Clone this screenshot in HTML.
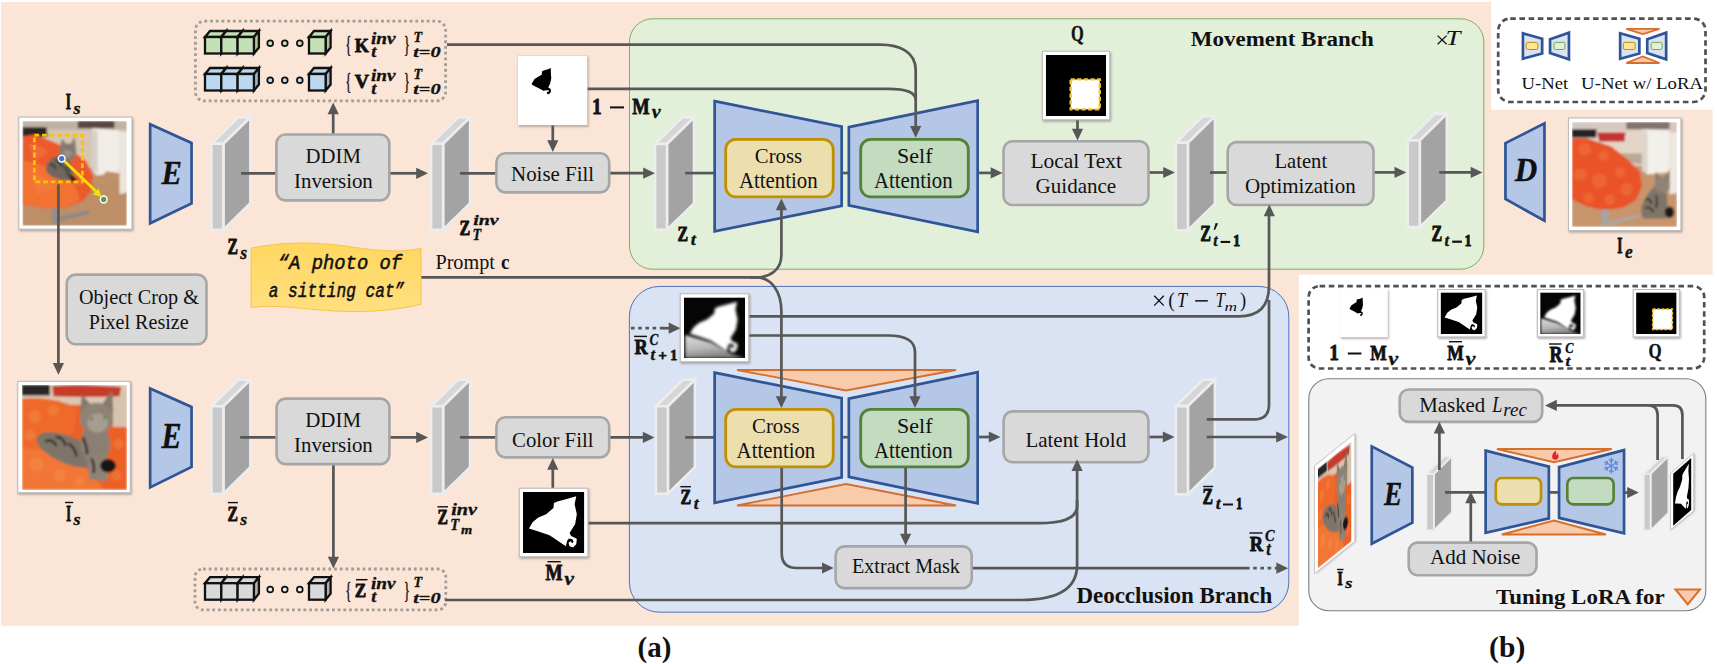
<!DOCTYPE html>
<html><head><meta charset="utf-8"><title>Figure</title>
<style>html,body{margin:0;padding:0;background:#fff;width:1717px;height:664px;overflow:hidden;font-family:"Liberation Serif",serif}svg{display:block}</style>
</head><body>
<svg width="1717" height="664" viewBox="0 0 1717 664"><defs><filter id="sh" x="-10%" y="-10%" width="130%" height="130%"><feGaussianBlur stdDeviation="1.3"/></filter></defs><rect x="0" y="0" width="1717" height="664" fill="#FFFFFF"/>
<polygon points="1.00,2.00 1491.00,2.00 1491.00,109.70 1712.60,109.70 1712.60,274.80 1298.80,274.80 1298.80,625.70 1.00,625.70" fill="#FBE5D6" stroke="none" stroke-width="0" stroke-linejoin="miter" />
<rect x="629.5" y="18.8" width="854.3" height="250.4" rx="23" fill="#E2F0D9" stroke="#74A553" stroke-width="0.9"/>
<rect x="629.4" y="286.4" width="659.4" height="325.8" rx="30" fill="#DAE3F3" stroke="#4D74BC" stroke-width="1"/>
<rect x="195.4" y="21.1" width="250.2" height="79.8" rx="9" fill="none" stroke="#A39D97" stroke-width="2.8" stroke-dasharray="2.8 2.9"/>
<rect x="195" y="569" width="250.8" height="40.8" rx="8" fill="none" stroke="#A39D97" stroke-width="2.8" stroke-dasharray="2.8 2.9"/>
<polygon points="205.00,37.00 210.00,31.00 226.30,31.00 221.30,37.00" fill="#C5E0B4" stroke="#111" stroke-width="2.3" stroke-linejoin="miter" stroke-linejoin="round"/>
<polygon points="221.30,37.00 226.30,31.00 226.30,47.50 221.30,53.50" fill="#A9C693" stroke="#111" stroke-width="2.3" stroke-linejoin="miter" stroke-linejoin="round"/>
<rect x="205.0" y="37.0" width="16.3" height="16.5" fill="#C5E0B4" stroke="#111" stroke-width="2.3"/>
<polygon points="221.30,37.00 226.30,31.00 242.60,31.00 237.60,37.00" fill="#C5E0B4" stroke="#111" stroke-width="2.3" stroke-linejoin="miter" stroke-linejoin="round"/>
<polygon points="237.60,37.00 242.60,31.00 242.60,47.50 237.60,53.50" fill="#A9C693" stroke="#111" stroke-width="2.3" stroke-linejoin="miter" stroke-linejoin="round"/>
<rect x="221.3" y="37.0" width="16.3" height="16.5" fill="#C5E0B4" stroke="#111" stroke-width="2.3"/>
<polygon points="237.60,37.00 242.60,31.00 258.90,31.00 253.90,37.00" fill="#C5E0B4" stroke="#111" stroke-width="2.3" stroke-linejoin="miter" stroke-linejoin="round"/>
<polygon points="253.90,37.00 258.90,31.00 258.90,47.50 253.90,53.50" fill="#A9C693" stroke="#111" stroke-width="2.3" stroke-linejoin="miter" stroke-linejoin="round"/>
<rect x="237.6" y="37.0" width="16.3" height="16.5" fill="#C5E0B4" stroke="#111" stroke-width="2.3"/>
<circle cx="270.2" cy="43.3" r="2.9" fill="#C5E0B4" stroke="#111" stroke-width="1.7"/>
<circle cx="284.8" cy="43.3" r="2.9" fill="#C5E0B4" stroke="#111" stroke-width="1.7"/>
<circle cx="299.8" cy="43.3" r="2.9" fill="#C5E0B4" stroke="#111" stroke-width="1.7"/>
<polygon points="309.00,37.00 314.00,31.00 330.60,31.00 325.60,37.00" fill="#C5E0B4" stroke="#111" stroke-width="2.3" stroke-linejoin="miter" stroke-linejoin="round"/>
<polygon points="325.60,37.00 330.60,31.00 330.60,47.50 325.60,53.50" fill="#A9C693" stroke="#111" stroke-width="2.3" stroke-linejoin="miter" stroke-linejoin="round"/>
<rect x="309.0" y="37.0" width="16.6" height="16.5" fill="#C5E0B4" stroke="#111" stroke-width="2.3"/>
<polygon points="205.00,74.00 210.00,68.00 226.30,68.00 221.30,74.00" fill="#BDD7EE" stroke="#111" stroke-width="2.3" stroke-linejoin="miter" stroke-linejoin="round"/>
<polygon points="221.30,74.00 226.30,68.00 226.30,84.50 221.30,90.50" fill="#9CB6CF" stroke="#111" stroke-width="2.3" stroke-linejoin="miter" stroke-linejoin="round"/>
<rect x="205.0" y="74.0" width="16.3" height="16.5" fill="#BDD7EE" stroke="#111" stroke-width="2.3"/>
<polygon points="221.30,74.00 226.30,68.00 242.60,68.00 237.60,74.00" fill="#BDD7EE" stroke="#111" stroke-width="2.3" stroke-linejoin="miter" stroke-linejoin="round"/>
<polygon points="237.60,74.00 242.60,68.00 242.60,84.50 237.60,90.50" fill="#9CB6CF" stroke="#111" stroke-width="2.3" stroke-linejoin="miter" stroke-linejoin="round"/>
<rect x="221.3" y="74.0" width="16.3" height="16.5" fill="#BDD7EE" stroke="#111" stroke-width="2.3"/>
<polygon points="237.60,74.00 242.60,68.00 258.90,68.00 253.90,74.00" fill="#BDD7EE" stroke="#111" stroke-width="2.3" stroke-linejoin="miter" stroke-linejoin="round"/>
<polygon points="253.90,74.00 258.90,68.00 258.90,84.50 253.90,90.50" fill="#9CB6CF" stroke="#111" stroke-width="2.3" stroke-linejoin="miter" stroke-linejoin="round"/>
<rect x="237.6" y="74.0" width="16.3" height="16.5" fill="#BDD7EE" stroke="#111" stroke-width="2.3"/>
<circle cx="270.2" cy="80.3" r="2.9" fill="#BDD7EE" stroke="#111" stroke-width="1.7"/>
<circle cx="284.8" cy="80.3" r="2.9" fill="#BDD7EE" stroke="#111" stroke-width="1.7"/>
<circle cx="299.8" cy="80.3" r="2.9" fill="#BDD7EE" stroke="#111" stroke-width="1.7"/>
<polygon points="309.00,74.00 314.00,68.00 330.60,68.00 325.60,74.00" fill="#BDD7EE" stroke="#111" stroke-width="2.3" stroke-linejoin="miter" stroke-linejoin="round"/>
<polygon points="325.60,74.00 330.60,68.00 330.60,84.50 325.60,90.50" fill="#9CB6CF" stroke="#111" stroke-width="2.3" stroke-linejoin="miter" stroke-linejoin="round"/>
<rect x="309.0" y="74.0" width="16.6" height="16.5" fill="#BDD7EE" stroke="#111" stroke-width="2.3"/>
<text transform="translate(345.45 52.19) scale(0.0594 0.1133)" font-family='"Liberation Serif", serif' font-size="200" font-weight="normal" font-style="normal" fill="#111" stroke="#111" stroke-width="5.79" stroke-linejoin="round" xml:space="preserve">{</text>
<text transform="translate(354.70 51.60) scale(0.0910 0.0962)" font-family='"Liberation Serif", serif' font-size="200" font-weight="bold" font-style="normal" fill="#111" stroke="#111" stroke-width="8.55" stroke-linejoin="round" xml:space="preserve">K</text>
<text transform="translate(370.98 43.95) scale(0.0963 0.0883)" font-family='"Liberation Serif", serif' font-size="200" font-weight="bold" font-style="italic" fill="#111" stroke="#111" stroke-width="3.79" stroke-linejoin="round" xml:space="preserve">inv</text>
<text transform="translate(371.18 56.65) scale(0.0926 0.0883)" font-family='"Liberation Serif", serif' font-size="200" font-weight="bold" font-style="italic" fill="#111" stroke="#111" stroke-width="3.87" stroke-linejoin="round" xml:space="preserve">t</text>
<text transform="translate(404.05 52.19) scale(0.0594 0.1133)" font-family='"Liberation Serif", serif' font-size="200" font-weight="normal" font-style="normal" fill="#111" stroke="#111" stroke-width="5.79" stroke-linejoin="round" xml:space="preserve">}</text>
<text transform="translate(413.48 41.53) scale(0.0702 0.0752)" font-family='"Liberation Serif", serif' font-size="200" font-weight="bold" font-style="italic" fill="#111" stroke="#111" stroke-width="4.82" stroke-linejoin="round" xml:space="preserve">T</text>
<text transform="translate(413.18 57.18) scale(0.1017 0.0737)" font-family='"Liberation Serif", serif' font-size="200" font-weight="bold" font-style="italic" fill="#111" stroke="#111" stroke-width="3.99" stroke-linejoin="round" xml:space="preserve">t=0</text>
<text transform="translate(345.45 89.19) scale(0.0594 0.1133)" font-family='"Liberation Serif", serif' font-size="200" font-weight="normal" font-style="normal" fill="#111" stroke="#111" stroke-width="5.79" stroke-linejoin="round" xml:space="preserve">{</text>
<text transform="translate(354.70 88.32) scale(0.0986 0.0940)" font-family='"Liberation Serif", serif' font-size="200" font-weight="bold" font-style="normal" fill="#111" stroke="#111" stroke-width="8.31" stroke-linejoin="round" xml:space="preserve">V</text>
<text transform="translate(370.98 80.95) scale(0.0963 0.0883)" font-family='"Liberation Serif", serif' font-size="200" font-weight="bold" font-style="italic" fill="#111" stroke="#111" stroke-width="3.79" stroke-linejoin="round" xml:space="preserve">inv</text>
<text transform="translate(371.18 93.65) scale(0.0926 0.0883)" font-family='"Liberation Serif", serif' font-size="200" font-weight="bold" font-style="italic" fill="#111" stroke="#111" stroke-width="3.87" stroke-linejoin="round" xml:space="preserve">t</text>
<text transform="translate(404.05 89.19) scale(0.0594 0.1133)" font-family='"Liberation Serif", serif' font-size="200" font-weight="normal" font-style="normal" fill="#111" stroke="#111" stroke-width="5.79" stroke-linejoin="round" xml:space="preserve">}</text>
<text transform="translate(413.48 78.53) scale(0.0702 0.0752)" font-family='"Liberation Serif", serif' font-size="200" font-weight="bold" font-style="italic" fill="#111" stroke="#111" stroke-width="4.82" stroke-linejoin="round" xml:space="preserve">T</text>
<text transform="translate(413.18 94.18) scale(0.1017 0.0737)" font-family='"Liberation Serif", serif' font-size="200" font-weight="bold" font-style="italic" fill="#111" stroke="#111" stroke-width="3.99" stroke-linejoin="round" xml:space="preserve">t=0</text>
<polygon points="205.00,583.20 210.00,577.20 226.30,577.20 221.30,583.20" fill="#D9D9D9" stroke="#111" stroke-width="2.3" stroke-linejoin="miter" stroke-linejoin="round"/>
<polygon points="221.30,583.20 226.30,577.20 226.30,593.70 221.30,599.70" fill="#B0B0B0" stroke="#111" stroke-width="2.3" stroke-linejoin="miter" stroke-linejoin="round"/>
<rect x="205.0" y="583.2" width="16.3" height="16.5" fill="#D9D9D9" stroke="#111" stroke-width="2.3"/>
<polygon points="221.30,583.20 226.30,577.20 242.60,577.20 237.60,583.20" fill="#D9D9D9" stroke="#111" stroke-width="2.3" stroke-linejoin="miter" stroke-linejoin="round"/>
<polygon points="237.60,583.20 242.60,577.20 242.60,593.70 237.60,599.70" fill="#B0B0B0" stroke="#111" stroke-width="2.3" stroke-linejoin="miter" stroke-linejoin="round"/>
<rect x="221.3" y="583.2" width="16.3" height="16.5" fill="#D9D9D9" stroke="#111" stroke-width="2.3"/>
<polygon points="237.60,583.20 242.60,577.20 258.90,577.20 253.90,583.20" fill="#D9D9D9" stroke="#111" stroke-width="2.3" stroke-linejoin="miter" stroke-linejoin="round"/>
<polygon points="253.90,583.20 258.90,577.20 258.90,593.70 253.90,599.70" fill="#B0B0B0" stroke="#111" stroke-width="2.3" stroke-linejoin="miter" stroke-linejoin="round"/>
<rect x="237.6" y="583.2" width="16.3" height="16.5" fill="#D9D9D9" stroke="#111" stroke-width="2.3"/>
<circle cx="270.2" cy="589.5" r="2.9" fill="#EEEEEE" stroke="#111" stroke-width="1.7"/>
<circle cx="284.8" cy="589.5" r="2.9" fill="#EEEEEE" stroke="#111" stroke-width="1.7"/>
<circle cx="299.8" cy="589.5" r="2.9" fill="#EEEEEE" stroke="#111" stroke-width="1.7"/>
<polygon points="309.00,583.20 314.00,577.20 330.60,577.20 325.60,583.20" fill="#D9D9D9" stroke="#111" stroke-width="2.3" stroke-linejoin="miter" stroke-linejoin="round"/>
<polygon points="325.60,583.20 330.60,577.20 330.60,593.70 325.60,599.70" fill="#B0B0B0" stroke="#111" stroke-width="2.3" stroke-linejoin="miter" stroke-linejoin="round"/>
<rect x="309.0" y="583.2" width="16.6" height="16.5" fill="#D9D9D9" stroke="#111" stroke-width="2.3"/>
<text transform="translate(345.45 597.69) scale(0.0594 0.1133)" font-family='"Liberation Serif", serif' font-size="200" font-weight="normal" font-style="normal" fill="#111" stroke="#111" stroke-width="5.79" stroke-linejoin="round" xml:space="preserve">{</text>
<text transform="translate(354.70 597.10) scale(0.0857 0.0962)" font-family='"Liberation Serif", serif' font-size="200" font-weight="bold" font-style="normal" fill="#111" stroke="#111" stroke-width="8.80" stroke-linejoin="round" xml:space="preserve">Z</text>
<text transform="translate(370.98 589.45) scale(0.0963 0.0883)" font-family='"Liberation Serif", serif' font-size="200" font-weight="bold" font-style="italic" fill="#111" stroke="#111" stroke-width="3.79" stroke-linejoin="round" xml:space="preserve">inv</text>
<text transform="translate(371.18 602.15) scale(0.0926 0.0883)" font-family='"Liberation Serif", serif' font-size="200" font-weight="bold" font-style="italic" fill="#111" stroke="#111" stroke-width="3.87" stroke-linejoin="round" xml:space="preserve">t</text>
<text transform="translate(404.05 597.69) scale(0.0594 0.1133)" font-family='"Liberation Serif", serif' font-size="200" font-weight="normal" font-style="normal" fill="#111" stroke="#111" stroke-width="5.79" stroke-linejoin="round" xml:space="preserve">}</text>
<text transform="translate(413.48 587.03) scale(0.0702 0.0752)" font-family='"Liberation Serif", serif' font-size="200" font-weight="bold" font-style="italic" fill="#111" stroke="#111" stroke-width="4.82" stroke-linejoin="round" xml:space="preserve">T</text>
<text transform="translate(413.18 602.68) scale(0.1017 0.0737)" font-family='"Liberation Serif", serif' font-size="200" font-weight="bold" font-style="italic" fill="#111" stroke="#111" stroke-width="3.99" stroke-linejoin="round" xml:space="preserve">t=0</text>
<rect x="356.0" y="578.95" width="11.5" height="1.50" fill="#111"/>
<polygon points="211.40,143.76 223.40,143.76 250.40,117.30 238.40,117.30" fill="#D6D6D6" stroke="#EDEDED" stroke-width="2.6" stroke-linejoin="miter" stroke-linejoin="round"/>
<polygon points="223.40,143.76 250.40,117.30 250.40,203.24 223.40,229.70" fill="#A3A3A3" stroke="#EDEDED" stroke-width="2.6" stroke-linejoin="miter" stroke-linejoin="round"/>
<polygon points="211.40,143.76 223.40,143.76 223.40,229.70 211.40,229.70" fill="#C9C9C9" stroke="#EDEDED" stroke-width="2.6" stroke-linejoin="miter" stroke-linejoin="round"/>
<polygon points="431.10,143.76 443.10,143.76 470.10,117.30 458.10,117.30" fill="#D6D6D6" stroke="#EDEDED" stroke-width="2.6" stroke-linejoin="miter" stroke-linejoin="round"/>
<polygon points="443.10,143.76 470.10,117.30 470.10,203.24 443.10,229.70" fill="#A3A3A3" stroke="#EDEDED" stroke-width="2.6" stroke-linejoin="miter" stroke-linejoin="round"/>
<polygon points="431.10,143.76 443.10,143.76 443.10,229.70 431.10,229.70" fill="#C9C9C9" stroke="#EDEDED" stroke-width="2.6" stroke-linejoin="miter" stroke-linejoin="round"/>
<polygon points="655.00,143.96 667.00,143.96 694.00,117.50 682.00,117.50" fill="#D6D6D6" stroke="#EDEDED" stroke-width="2.6" stroke-linejoin="miter" stroke-linejoin="round"/>
<polygon points="667.00,143.96 694.00,117.50 694.00,203.34 667.00,229.80" fill="#A3A3A3" stroke="#EDEDED" stroke-width="2.6" stroke-linejoin="miter" stroke-linejoin="round"/>
<polygon points="655.00,143.96 667.00,143.96 667.00,229.80 655.00,229.80" fill="#C9C9C9" stroke="#EDEDED" stroke-width="2.6" stroke-linejoin="miter" stroke-linejoin="round"/>
<polygon points="1175.90,142.76 1187.90,142.76 1214.90,116.30 1202.90,116.30" fill="#D6D6D6" stroke="#EDEDED" stroke-width="2.6" stroke-linejoin="miter" stroke-linejoin="round"/>
<polygon points="1187.90,142.76 1214.90,116.30 1214.90,203.84 1187.90,230.30" fill="#A3A3A3" stroke="#EDEDED" stroke-width="2.6" stroke-linejoin="miter" stroke-linejoin="round"/>
<polygon points="1175.90,142.76 1187.90,142.76 1187.90,230.30 1175.90,230.30" fill="#C9C9C9" stroke="#EDEDED" stroke-width="2.6" stroke-linejoin="miter" stroke-linejoin="round"/>
<polygon points="1407.80,140.36 1419.80,140.36 1446.80,113.90 1434.80,113.90" fill="#D6D6D6" stroke="#EDEDED" stroke-width="2.6" stroke-linejoin="miter" stroke-linejoin="round"/>
<polygon points="1419.80,140.36 1446.80,113.90 1446.80,200.64 1419.80,227.10" fill="#A3A3A3" stroke="#EDEDED" stroke-width="2.6" stroke-linejoin="miter" stroke-linejoin="round"/>
<polygon points="1407.80,140.36 1419.80,140.36 1419.80,227.10 1407.80,227.10" fill="#C9C9C9" stroke="#EDEDED" stroke-width="2.6" stroke-linejoin="miter" stroke-linejoin="round"/>
<polygon points="211.40,406.26 223.40,406.26 250.40,379.80 238.40,379.80" fill="#D6D6D6" stroke="#EDEDED" stroke-width="2.6" stroke-linejoin="miter" stroke-linejoin="round"/>
<polygon points="223.40,406.26 250.40,379.80 250.40,467.24 223.40,493.70" fill="#A3A3A3" stroke="#EDEDED" stroke-width="2.6" stroke-linejoin="miter" stroke-linejoin="round"/>
<polygon points="211.40,406.26 223.40,406.26 223.40,493.70 211.40,493.70" fill="#C9C9C9" stroke="#EDEDED" stroke-width="2.6" stroke-linejoin="miter" stroke-linejoin="round"/>
<polygon points="431.10,406.26 443.10,406.26 470.10,379.80 458.10,379.80" fill="#D6D6D6" stroke="#EDEDED" stroke-width="2.6" stroke-linejoin="miter" stroke-linejoin="round"/>
<polygon points="443.10,406.26 470.10,379.80 470.10,467.24 443.10,493.70" fill="#A3A3A3" stroke="#EDEDED" stroke-width="2.6" stroke-linejoin="miter" stroke-linejoin="round"/>
<polygon points="431.10,406.26 443.10,406.26 443.10,493.70 431.10,493.70" fill="#C9C9C9" stroke="#EDEDED" stroke-width="2.6" stroke-linejoin="miter" stroke-linejoin="round"/>
<polygon points="655.90,406.26 667.90,406.26 694.90,379.80 682.90,379.80" fill="#D6D6D6" stroke="#EDEDED" stroke-width="2.6" stroke-linejoin="miter" stroke-linejoin="round"/>
<polygon points="667.90,406.26 694.90,379.80 694.90,467.24 667.90,493.70" fill="#A3A3A3" stroke="#EDEDED" stroke-width="2.6" stroke-linejoin="miter" stroke-linejoin="round"/>
<polygon points="655.90,406.26 667.90,406.26 667.90,493.70 655.90,493.70" fill="#C9C9C9" stroke="#EDEDED" stroke-width="2.6" stroke-linejoin="miter" stroke-linejoin="round"/>
<polygon points="1175.90,406.16 1187.90,406.16 1214.90,379.70 1202.90,379.70" fill="#D6D6D6" stroke="#EDEDED" stroke-width="2.6" stroke-linejoin="miter" stroke-linejoin="round"/>
<polygon points="1187.90,406.16 1214.90,379.70 1214.90,467.74 1187.90,494.20" fill="#A3A3A3" stroke="#EDEDED" stroke-width="2.6" stroke-linejoin="miter" stroke-linejoin="round"/>
<polygon points="1175.90,406.16 1187.90,406.16 1187.90,494.20 1175.90,494.20" fill="#C9C9C9" stroke="#EDEDED" stroke-width="2.6" stroke-linejoin="miter" stroke-linejoin="round"/>
<path d="M241 173.3H276" fill="none" stroke="#575757" stroke-width="2.7" />
<path d="M390.0 173.3H418.2" fill="none" stroke="#575757" stroke-width="2.7" />
<path d="M460 173.3H496" fill="none" stroke="#575757" stroke-width="2.7" />
<path d="M610.0 173.2H645.2" fill="none" stroke="#575757" stroke-width="2.7" />
<path d="M685.1 173.1H715" fill="none" stroke="#575757" stroke-width="2.7" />
<path d="M840 173H851" fill="none" stroke="#575757" stroke-width="2.7" />
<path d="M976.0 172.9H992.7" fill="none" stroke="#575757" stroke-width="2.7" />
<path d="M1149.0 172.5H1165.2" fill="none" stroke="#575757" stroke-width="2.7" />
<path d="M1210 172.5H1227" fill="none" stroke="#575757" stroke-width="2.7" />
<path d="M1374.0 172.4H1396.5" fill="none" stroke="#575757" stroke-width="2.7" />
<path d="M1439.3 172.4H1472.7" fill="none" stroke="#575757" stroke-width="2.7" />
<path d="M240.2 437.4H276" fill="none" stroke="#575757" stroke-width="2.7" />
<path d="M390.0 437.4H418.2" fill="none" stroke="#575757" stroke-width="2.7" />
<path d="M460 437.4H496" fill="none" stroke="#575757" stroke-width="2.7" />
<path d="M610.0 437.4H644.8" fill="none" stroke="#575757" stroke-width="2.7" />
<path d="M685.1 437.4H715" fill="none" stroke="#575757" stroke-width="2.7" />
<path d="M840 437.2H851" fill="none" stroke="#575757" stroke-width="2.7" />
<path d="M976.0 437.0H990.8" fill="none" stroke="#575757" stroke-width="2.7" />
<path d="M1149.0 437.0H1164.8" fill="none" stroke="#575757" stroke-width="2.7" />
<path d="M1206.7 437.0H1278.2" fill="none" stroke="#575757" stroke-width="2.7" />
<path d="M1206.7 419.4H1254 Q1269 419.4 1269 404.4V300" fill="none" stroke="#575757" stroke-width="2.7" />
<path d="M552.8 124.0V142.2" fill="none" stroke="#575757" stroke-width="2.7" />
<path d="M333.2 134.0V112.3" fill="none" stroke="#575757" stroke-width="2.7" />
<path d="M333.4 465.0V558.7" fill="none" stroke="#575757" stroke-width="2.7" />
<path d="M1077.5 120.0V130.7" fill="none" stroke="#575757" stroke-width="2.7" />
<path d="M552.8 488.0V467.8" fill="none" stroke="#575757" stroke-width="2.7" />
<path d="M748 316.3H1239 Q1269 316.3 1269 286V212" fill="none" stroke="#575757" stroke-width="2.7" />
<path d="M631 328.2H664" stroke="#575757" stroke-width="2.7" stroke-dasharray="3.6 3.6" fill="none"/>
<path d="M663.0 328.2H670.7" fill="none" stroke="#575757" stroke-width="2.7" />
<path d="M972 568.2H1246" fill="none" stroke="#575757" stroke-width="2.7" />
<path d="M1246 568.2H1279" stroke="#575757" stroke-width="2.7" stroke-dasharray="3.6 3.6" fill="none"/>
<path d="M587 523.2H1038 C1062 523.2 1077.1 519 1077.1 506V470" fill="none" stroke="#575757" stroke-width="2.7" />
<path d="M445 600H1021 C1055 600 1077.1 590 1077.1 565V500" fill="none" stroke="#575757" stroke-width="2.7" />
<polygon points="150.15,124.26 191.55,142.92 191.55,203.38 150.15,223.34" fill="#B4C7E7" stroke="#2F5597" stroke-width="2.7" stroke-linejoin="miter" />
<text transform="translate(161.58 183.82) scale(0.1530 0.1737)" font-family='"Liberation Serif", serif' font-size="200" font-weight="bold" font-style="italic" fill="#111" stroke="#111" stroke-width="2.14" stroke-linejoin="round" xml:space="preserve">E</text>
<polygon points="150.15,388.56 191.55,406.92 191.55,466.98 150.15,487.34" fill="#B4C7E7" stroke="#2F5597" stroke-width="2.7" stroke-linejoin="miter" />
<text transform="translate(161.58 448.22) scale(0.1500 0.1767)" font-family='"Liberation Serif", serif' font-size="200" font-weight="bold" font-style="italic" fill="#111" stroke="#111" stroke-width="2.14" stroke-linejoin="round" xml:space="preserve">E</text>
<polygon points="1505.45,143.16 1544.45,123.42 1544.45,220.78 1505.45,199.04" fill="#B4C7E7" stroke="#2F5597" stroke-width="2.7" stroke-linejoin="miter" />
<text transform="translate(1514.79 181.06) scale(0.1558 0.1640)" font-family='"Liberation Serif", serif' font-size="200" font-weight="bold" font-style="italic" fill="#111" stroke="#111" stroke-width="2.19" stroke-linejoin="round" xml:space="preserve">D</text>
<polygon points="714.65,101.16 841.65,126.62 841.65,205.88 714.65,231.34" fill="#B4C7E7" stroke="#2F5597" stroke-width="2.7" stroke-linejoin="miter" />
<polygon points="848.85,127.16 977.65,100.62 977.65,231.88 848.85,205.34" fill="#B4C7E7" stroke="#2F5597" stroke-width="2.7" stroke-linejoin="miter" />
<rect x="725.70" y="139.40" width="107.50" height="57.40" rx="10" fill="#EDDEAE" stroke="#BF9000" stroke-width="2.8"/>
<rect x="860.70" y="139.40" width="107.60" height="57.40" rx="10" fill="#C3DBBE" stroke="#538135" stroke-width="2.8"/>
<polygon points="737.00,370.00 956.00,370.00 846.00,390.50" fill="#F8CBAD" stroke="#D56F2E" stroke-width="1.8" stroke-linejoin="miter" />
<polygon points="737.00,505.50 956.00,505.50 846.00,484.00" fill="#F8CBAD" stroke="#D56F2E" stroke-width="1.8" stroke-linejoin="miter" />
<polygon points="714.65,372.65 841.65,398.11 841.65,477.37 714.65,502.82" fill="#B4C7E7" stroke="#2F5597" stroke-width="2.7" stroke-linejoin="miter" />
<polygon points="848.85,398.65 977.65,372.11 977.65,503.37 848.85,476.82" fill="#B4C7E7" stroke="#2F5597" stroke-width="2.7" stroke-linejoin="miter" />
<rect x="725.70" y="409.40" width="107.50" height="57.40" rx="10" fill="#EDDEAE" stroke="#BF9000" stroke-width="2.8"/>
<rect x="860.70" y="409.40" width="107.60" height="57.40" rx="10" fill="#C3DBBE" stroke="#538135" stroke-width="2.8"/>
<text transform="translate(754.80 162.68) scale(0.1039 0.1097)" font-family='"Liberation Serif", serif' font-size="200" font-weight="normal" font-style="normal" fill="#111" xml:space="preserve">Cross</text>
<text transform="translate(738.90 187.68) scale(0.1042 0.1111)" font-family='"Liberation Serif", serif' font-size="200" font-weight="normal" font-style="normal" fill="#111" xml:space="preserve">Attention</text>
<text transform="translate(897.10 162.69) scale(0.1099 0.1028)" font-family='"Liberation Serif", serif' font-size="200" font-weight="normal" font-style="normal" fill="#111" xml:space="preserve">Self</text>
<text transform="translate(874.00 187.68) scale(0.1042 0.1111)" font-family='"Liberation Serif", serif' font-size="200" font-weight="normal" font-style="normal" fill="#111" xml:space="preserve">Attention</text>
<text transform="translate(752.00 432.68) scale(0.1044 0.1097)" font-family='"Liberation Serif", serif' font-size="200" font-weight="normal" font-style="normal" fill="#111" xml:space="preserve">Cross</text>
<text transform="translate(736.60 457.68) scale(0.1042 0.1111)" font-family='"Liberation Serif", serif' font-size="200" font-weight="normal" font-style="normal" fill="#111" xml:space="preserve">Attention</text>
<text transform="translate(897.10 432.69) scale(0.1099 0.1028)" font-family='"Liberation Serif", serif' font-size="200" font-weight="normal" font-style="normal" fill="#111" xml:space="preserve">Self</text>
<text transform="translate(874.00 457.68) scale(0.1042 0.1111)" font-family='"Liberation Serif", serif' font-size="200" font-weight="normal" font-style="normal" fill="#111" xml:space="preserve">Attention</text>
<path d="M447 44.7H880 C900 44.7 915.7 52 915.7 70V128" fill="none" stroke="#575757" stroke-width="2.7" />
<path d="M587 88.9H888 C905 88.9 915.7 92 915.7 100" fill="none" stroke="#575757" stroke-width="2.7" />
<path d="M421 277.4H756 C770 277.4 781.4 270 781.4 255V208" fill="none" stroke="#575757" stroke-width="2.7" />
<path d="M750 277.4H756 C772 277.4 781.4 292 781.4 312V398" fill="none" stroke="#575757" stroke-width="2.7" />
<path d="M748 335.5H888 C905 335.5 915 340 915 352V398" fill="none" stroke="#575757" stroke-width="2.7" />
<path d="M781.7 468V553 Q781.7 568 796.7 568H824" fill="none" stroke="#575757" stroke-width="2.7" />
<path d="M905.6 468.0V535.8" fill="none" stroke="#575757" stroke-width="2.7" />
<rect x="276.40" y="134.50" width="112.90" height="65.90" rx="9" fill="#D9D9D9" stroke="#A6A6A6" stroke-width="2.6"/>
<text transform="translate(305.60 163.00) scale(0.1038 0.1099)" font-family='"Liberation Serif", serif' font-size="200" font-weight="normal" font-style="normal" fill="#111" xml:space="preserve">DDIM</text>
<text transform="translate(294.00 187.59) scale(0.1044 0.1059)" font-family='"Liberation Serif", serif' font-size="200" font-weight="normal" font-style="normal" fill="#111" xml:space="preserve">Inversion</text>
<rect x="276.60" y="398.60" width="112.80" height="65.50" rx="9" fill="#D9D9D9" stroke="#A6A6A6" stroke-width="2.6"/>
<text transform="translate(305.20 427.20) scale(0.1047 0.1076)" font-family='"Liberation Serif", serif' font-size="200" font-weight="normal" font-style="normal" fill="#111" xml:space="preserve">DDIM</text>
<text transform="translate(294.10 452.28) scale(0.1042 0.1089)" font-family='"Liberation Serif", serif' font-size="200" font-weight="normal" font-style="normal" fill="#111" xml:space="preserve">Inversion</text>
<rect x="66.70" y="274.60" width="139.80" height="69.70" rx="9" fill="#D9D9D9" stroke="#A6A6A6" stroke-width="2.6"/>
<text transform="translate(78.90 304.13) scale(0.1009 0.1016)" font-family='"Liberation Serif", serif' font-size="200" font-weight="normal" font-style="normal" fill="#111" xml:space="preserve">Object Crop &amp;</text>
<text transform="translate(88.80 329.39) scale(0.1004 0.1043)" font-family='"Liberation Serif", serif' font-size="200" font-weight="normal" font-style="normal" fill="#111" xml:space="preserve">Pixel Resize</text>
<rect x="496.40" y="153.30" width="112.80" height="39.10" rx="9" fill="#D9D9D9" stroke="#A6A6A6" stroke-width="2.6"/>
<text transform="translate(511.10 181.28) scale(0.1045 0.1092)" font-family='"Liberation Serif", serif' font-size="200" font-weight="normal" font-style="normal" fill="#111" xml:space="preserve">Noise Fill</text>
<rect x="496.40" y="417.30" width="112.80" height="40.10" rx="9" fill="#D9D9D9" stroke="#A6A6A6" stroke-width="2.6"/>
<text transform="translate(512.00 446.68) scale(0.1041 0.1078)" font-family='"Liberation Serif", serif' font-size="200" font-weight="normal" font-style="normal" fill="#111" xml:space="preserve">Color Fill</text>
<rect x="1003.50" y="141.20" width="145.00" height="63.80" rx="9" fill="#D9D9D9" stroke="#A6A6A6" stroke-width="2.6"/>
<text transform="translate(1030.40 168.39) scale(0.1073 0.1028)" font-family='"Liberation Serif", serif' font-size="200" font-weight="normal" font-style="normal" fill="#111" xml:space="preserve">Local Text</text>
<text transform="translate(1035.60 193.39) scale(0.1052 0.1071)" font-family='"Liberation Serif", serif' font-size="200" font-weight="normal" font-style="normal" fill="#111" xml:space="preserve">Guidance</text>
<rect x="1227.70" y="142.10" width="145.80" height="62.90" rx="9" fill="#D9D9D9" stroke="#A6A6A6" stroke-width="2.6"/>
<text transform="translate(1274.50 168.38) scale(0.1031 0.1090)" font-family='"Liberation Serif", serif' font-size="200" font-weight="normal" font-style="normal" fill="#111" xml:space="preserve">Latent</text>
<text transform="translate(1244.90 192.93) scale(0.1050 0.1085)" font-family='"Liberation Serif", serif' font-size="200" font-weight="normal" font-style="normal" fill="#111" xml:space="preserve">Optimization</text>
<rect x="1003.60" y="411.40" width="144.80" height="50.90" rx="9" fill="#D9D9D9" stroke="#A6A6A6" stroke-width="2.6"/>
<text transform="translate(1025.40 446.68) scale(0.1049 0.1085)" font-family='"Liberation Serif", serif' font-size="200" font-weight="normal" font-style="normal" fill="#111" xml:space="preserve">Latent Hold</text>
<rect x="835.60" y="546.40" width="136.10" height="41.70" rx="9" fill="#D9D9D9" stroke="#A6A6A6" stroke-width="2.6"/>
<text transform="translate(852.00 572.89) scale(0.1007 0.1028)" font-family='"Liberation Serif", serif' font-size="200" font-weight="normal" font-style="normal" fill="#111" xml:space="preserve">Extract Mask</text>
<polygon points="428.0,173.3 416.2,167.7 416.2,178.9" fill="#575757"/>
<polygon points="655.0,173.2 643.2,167.6 643.2,178.8" fill="#575757"/>
<polygon points="1002.5,172.9 990.7,167.3 990.7,178.5" fill="#575757"/>
<polygon points="1175.0,172.5 1163.2,166.9 1163.2,178.1" fill="#575757"/>
<polygon points="1406.3,172.4 1394.5,166.8 1394.5,178.0" fill="#575757"/>
<polygon points="1482.5,172.4 1470.7,166.8 1470.7,178.0" fill="#575757"/>
<polygon points="428.0,437.4 416.2,431.8 416.2,443.0" fill="#575757"/>
<polygon points="654.6,437.4 642.8,431.8 642.8,443.0" fill="#575757"/>
<polygon points="1000.6,437.0 988.8,431.4 988.8,442.6" fill="#575757"/>
<polygon points="1174.6,437.0 1162.8,431.4 1162.8,442.6" fill="#575757"/>
<polygon points="1288.0,437.0 1276.2,431.4 1276.2,442.6" fill="#575757"/>
<polygon points="552.8,152.0 547.2,140.2 558.4,140.2" fill="#575757"/>
<polygon points="333.2,102.5 327.6,114.3 338.8,114.3" fill="#575757"/>
<polygon points="333.4,568.5 327.8,556.7 339.0,556.7" fill="#575757"/>
<polygon points="1077.5,140.5 1071.9,128.7 1083.1,128.7" fill="#575757"/>
<polygon points="552.8,458.0 547.2,469.8 558.4,469.8" fill="#575757"/>
<polygon points="1269.3,204.5 1263.7,216.3 1274.9,216.3" fill="#575757"/>
<polygon points="680.5,328.2 668.7,322.6 668.7,333.8" fill="#575757"/>
<polygon points="1288.2,568.2 1276.4,562.6 1276.4,573.8" fill="#575757"/>
<polygon points="1077.1,459.3 1071.5,471.1 1082.7,471.1" fill="#575757"/>
<polygon points="915.7,137.8 910.1,126.0 921.3,126.0" fill="#575757"/>
<polygon points="781.4,198.5 775.8,210.3 787.0,210.3" fill="#575757"/>
<polygon points="781.4,408.0 775.8,396.2 787.0,396.2" fill="#575757"/>
<polygon points="915.0,408.0 909.4,396.2 920.6,396.2" fill="#575757"/>
<polygon points="833.8,568.0 822.0,562.4 822.0,573.6" fill="#575757"/>
<polygon points="905.6,545.6 900.0,533.8 911.2,533.8" fill="#575757"/>
<rect x="19.2" y="118.0" width="114.3" height="113.2" fill="#666" opacity="0.5" filter="url(#sh)"/>
<rect x="18.75" y="117.05" width="113.20" height="112.10" fill="#FFFFFF" stroke="#BDBDBD" stroke-width="1.1"/>
<svg x="22.50" y="121.00" width="104.40" height="104.70" viewBox="0 0 100 100" preserveAspectRatio="none" overflow="hidden">

<defs><filter id="pb1" x="-5%" y="-5%" width="110%" height="110%"><feGaussianBlur stdDeviation="0.9"/></filter></defs>
<g filter="url(#pb1)">
<rect width="100" height="100" fill="#C09068"/>
<rect width="100" height="45" fill="#D2C6B8"/>
<path d="M0 0H100V8H0Z" fill="#C0B2A2"/>
<path d="M30 12 L70 10 L68 40 L35 44Z" fill="#D6C6B2"/>
<path d="M0 6 H23 L24 15 H0Z" fill="#2A2624"/>
<path d="M53 0 H88 V7 H53Z" fill="#3E2C28" opacity="0.8"/>
<path d="M0 60 L40 70 L100 55 V100 H0Z" fill="#BE8E66"/>
<path d="M67 7 L93 9 L93 50 L80 48 L78 51 L71 52 L67 48Z" fill="#F1EDE8"/>
<path d="M67 8 L72 10 L72 50 L67 48Z" fill="#D8D0C8"/>
<path d="M93 10 L100 10 V68 L93 70Z" fill="#ECE6DE"/>
<path d="M0 14.6 L12 13 L31.9 20.9 L46.8 28 L61 38.3 L67.5 52.5 L65.9 66.8 L57.9 76.3 L42 82.6 L21.4 83.4 L0 79.4Z" fill="#EB5A2A"/>
<path d="M0 38 Q25 40 45 56 Q55 66 55 76 L42 82 L21 83 L0 79Z" fill="#F27232"/>
<path d="M5 22 Q15 20 25 30 L12 38Z M8 50 Q22 52 32 64 L14 70Z M48 45 Q56 50 60 60 L50 62Z" fill="#F8924E" opacity="0.3"/>
<path d="M22 46 Q24 36 34 33 Q40 32 44 38 Q50 46 48 56 Q40 58 30 54 Q24 51 22 46Z" fill="#6F665D"/>
<path d="M36 24 L38 17 L42 22 L47 21 L50 15 L51 24 Q53 32 48 37 Q42 40 37 35 Q34 30 36 24Z" fill="#857A6E"/>
<path d="M39 28 Q44 27 48 30 Q46 35 42 35 Q39 33 39 28Z" fill="#9C9187"/>
<path d="M26 42 Q30 40 32 46 M32 38 Q36 38 38 44 M40 44 Q44 46 44 52" stroke="#3E3830" stroke-width="2" fill="none"/>
<path d="M44 51 Q50 52 53 57 L47 58Z" fill="#1E1E1E"/>
<path d="M28.6 83 L34 83 L34 98 L28.6 98Z" fill="#8E8E8E"/>
<path d="M34 92 L64 85 L64 89 L34 96Z" fill="#8A8A8A"/>
</g>

</svg>
<rect x="18.2" y="382.3" width="113.6" height="112.5" fill="#666" opacity="0.5" filter="url(#sh)"/>
<rect x="17.75" y="381.35" width="112.50" height="111.40" fill="#FFFFFF" stroke="#BDBDBD" stroke-width="1.1"/>
<svg x="22.00" y="385.00" width="104.90" height="104.90" viewBox="0 0 100 100" preserveAspectRatio="none" overflow="hidden">

<defs><filter id="pb2" x="-5%" y="-5%" width="110%" height="110%"><feGaussianBlur stdDeviation="0.9"/></filter></defs>
<g filter="url(#pb2)">
<rect width="100" height="100" fill="#EC6027"/>
<rect width="100" height="19" fill="#D9C7B2"/>
<path d="M86.6 10 H100 V40 H86.6Z" fill="#D6C4AE"/>
<path d="M0 0H26.5V10H0Z" fill="#2A2828"/>
<path d="M29 1 Q60 -1 94.5 2 L93 10.7 Q60 12 30 10.7Z" fill="#C63A2A"/>
<path d="M0 13 Q30 10 52 22 L50 45 L28 56 L12 62 L0 62Z" fill="#EF6A2C"/>
<path d="M0 60 Q30 60 56 76 Q70 86 78 100 H0Z" fill="#F27634"/>
<g fill="#F59E52" opacity="0.3">
<circle cx="12" cy="30" r="6"/><circle cx="30" cy="24" r="5"/><circle cx="8" cy="48" r="5"/>
<circle cx="14" cy="76" r="7"/><circle cx="36" cy="86" r="6"/><circle cx="55" cy="92" r="5"/><circle cx="92" cy="56" r="5"/><circle cx="90" cy="86" r="5"/>
</g>
<ellipse cx="44" cy="62" rx="32" ry="13" transform="rotate(22 44 62)" fill="#7E7468"/>
<ellipse cx="70" cy="56" rx="14" ry="20" fill="#8A7F72"/>
<path d="M62 66 L80 66 L82 92 L64 90Z" fill="#8E8376"/>
<path d="M55 28 L57 9 L67 20Z M75 20 L86 5 L87 27Z" fill="#857A6D"/>
<ellipse cx="71" cy="32" rx="16" ry="15" fill="#8E8376"/>
<ellipse cx="72" cy="36" rx="10" ry="9" fill="#A69C90"/>
<circle cx="66" cy="32" r="1.8" fill="#6E8A3A"/><circle cx="79" cy="31" r="1.8" fill="#6E8A3A"/>
<path d="M22 54 Q28 50 33 58 M32 50 Q38 48 42 58 M44 56 Q50 58 52 68 M58 50 Q62 58 62 66 M66 70 Q70 76 68 84" stroke="#3C362F" stroke-width="2.6" fill="none"/>
<ellipse cx="82" cy="77" rx="7.5" ry="6.5" fill="#151515"/>
</g>

</svg>
<rect x="1569.0" y="118.9" width="113.5" height="113.7" fill="#666" opacity="0.5" filter="url(#sh)"/>
<rect x="1568.55" y="117.95" width="112.40" height="112.60" fill="#FFFFFF" stroke="#BDBDBD" stroke-width="1.1"/>
<svg x="1572.00" y="122.00" width="104.90" height="104.90" viewBox="0 0 100 100" preserveAspectRatio="none" overflow="hidden">

<defs><filter id="pb3" x="-5%" y="-5%" width="110%" height="110%"><feGaussianBlur stdDeviation="0.8"/></filter></defs>
<g filter="url(#pb3)">
<rect width="100" height="100" fill="#C7946C"/>
<rect width="100" height="42" fill="#D9CCC4"/>
<path d="M0 0H100V10H0Z" fill="#D6C8C0"/>
<path d="M23 8 L68 8 L68 30 L40 30 L23 22Z" fill="#E4D6C6"/>
<path d="M40 30 L68 30 L66 40 L45 38Z" fill="#BBA996"/>
<path d="M0 6.8 H23.4 L23 14.7 H0Z" fill="#222020"/>
<path d="M24 10 L51 10 L50 18.6 L26 18.6Z" fill="#C43030"/>
<path d="M51.8 0 H93 V6.8 H51.8Z" fill="#4A3A36" opacity="0.6"/>
<path d="M66.8 6.8 L93 8 L93 48 L72 50 L66.8 46Z" fill="#F3EFEA"/>
<path d="M66.8 7 L72 9 L72 50 L66.8 46Z" fill="#DCD5CD"/>
<path d="M93 10 L100 10 V67.6 L93 69Z" fill="#EEE8E0"/>
<path d="M0 15.5 L13.9 15.5 L37.6 23.4 L53.4 36 L64.5 47 L66.8 61.3 L61.3 74 L48.7 81.8 L29.7 84.2 L13.9 80.3 L0 73.9Z" fill="#EA5229"/>
<g fill="#F59A48" opacity="0.28">
<circle cx="12" cy="26" r="6"/><circle cx="30" cy="32" r="5"/><circle cx="8" cy="50" r="6"/><circle cx="26" cy="56" r="7"/>
<circle cx="46" cy="48" r="5"/><circle cx="52" cy="64" r="6"/><circle cx="36" cy="74" r="5"/><circle cx="16" cy="72" r="5"/>
</g>
<path d="M28 83.4 L35 83.4 L35 99 L28 99Z" fill="#A4A4A4"/>
<path d="M35 95 L64 88 L64 91 L35 98Z" fill="#A8A8A8"/>
<path d="M78 62 Q86 60 90 68 Q92 80 90 92 L68 92 Q64 84 68 76 Q72 68 78 62Z" fill="#7E7468"/>
<path d="M79 57 L80 47 L84 53 L89 52 L93 45 L93 57Z" fill="#857A6E"/>
<ellipse cx="86" cy="60" rx="7.5" ry="7.5" fill="#8E8376"/>
<path d="M70 74 Q74 72 76 78 M70 82 Q74 80 78 86 M80 70 Q82 76 80 82" stroke="#3E3830" stroke-width="2" fill="none"/>
<ellipse cx="93" cy="86" rx="4.5" ry="5.5" fill="#1A1A1A"/>
</g>

</svg>
<rect x="34.4" y="135.2" width="48" height="46.7" fill="none" stroke="#FFC000" stroke-width="2.8" stroke-dasharray="4.8 2.8"/>
<line x1="61.7" y1="158.6" x2="97" y2="192.3" stroke="#F2E200" stroke-width="2.8"/>
<polygon points="101.40,196.80 92.60,194.60 98.80,188.40" fill="#F2E200" stroke="none" stroke-width="0" stroke-linejoin="miter" />
<circle cx="61.7" cy="158.6" r="3.4" fill="#4472C4" stroke="#FFF" stroke-width="1.5"/>
<circle cx="103.7" cy="199.5" r="3.4" fill="#55A040" stroke="#FFF" stroke-width="1.5"/>
<path d="M58.4 184.3V365.0" fill="none" stroke="#575757" stroke-width="2.7" />
<rect x="518.8" y="57.2" width="69.7" height="69.6" fill="#666" opacity="0.5" filter="url(#sh)"/>
<rect x="518.35" y="56.25" width="68.60" height="68.50" fill="#FFFFFF" stroke="#BDBDBD" stroke-width="1.1"/>
<svg x="517.80" y="55.70" width="69.70" height="69.60" viewBox="0 0 100 100" preserveAspectRatio="none" overflow="hidden">
<rect width="100" height="100" fill="#FFF"/><path d="M19.7 40.5 L24 33.6 L30.4 29.6 L34.4 27.2 L34.7 22.4 L38.4 20.8 L42.4 20 L47.2 17.6 L47.5 24.8 L48 32.8 L46.4 40 L43.7 45.6 L47.2 48 L47.5 52 L44.8 55.5 L42 54.5 L41.5 52.5 L44.3 51.5 L44.5 49.5 L41.5 49.5 L36.8 50.4 L28 45.6 L21.6 42.4Z" fill="#000"/>
</svg>
<rect x="1042.8" y="52.2" width="68.5" height="69.6" fill="#666" opacity="0.5" filter="url(#sh)"/>
<rect x="1042.35" y="51.25" width="67.40" height="68.50" fill="#FFFFFF" stroke="#BDBDBD" stroke-width="1.1"/>
<svg x="1046.00" y="54.90" width="60.10" height="61.20" viewBox="0 0 100 100" preserveAspectRatio="none" overflow="hidden">
<rect width="100" height="100" fill="#000"/><rect x="41" y="40" width="48.5" height="49" fill="#FFFFFF" stroke="#F3C420" stroke-width="4" stroke-dasharray="7 4"/>
</svg>
<rect x="680.7" y="294.7" width="69.6" height="69.1" fill="#666" opacity="0.5" filter="url(#sh)"/>
<rect x="680.25" y="293.75" width="68.50" height="68.00" fill="#FFFFFF" stroke="#BDBDBD" stroke-width="1.1"/>
<svg x="683.90" y="297.40" width="61.20" height="60.70" viewBox="0 0 100 100" preserveAspectRatio="none" overflow="hidden">
<defs><filter id="bl3" x="-20%" y="-20%" width="140%" height="140%"><feGaussianBlur stdDeviation="2.2"/></filter><linearGradient id="gg3" x1="0" y1="0" x2="0.3" y2="1"><stop offset="0" stop-color="#E0E0E0"/><stop offset="0.6" stop-color="#B8B8B8"/><stop offset="1" stop-color="#808080"/></linearGradient></defs><rect width="100" height="100" fill="#050505"/><path d="M2 62 L44 74 L80 94 L100 100 L100 100 H2Z" fill="url(#gg3)" filter="url(#bl3)"/><path d="M9.6 60 L16 49 L25 41.8 L37.8 36.4 L49.6 26.4 L50.5 18.2 L56 15.5 L66.9 12.7 L86.9 7.3 L84.2 20 L87.8 36.4 L85 52.7 L76 67.3 L78.5 72 L87.8 76.4 L86.9 85.5 L81.5 90.9 L76 89 L74.2 83 L78 80.5 L80 84 L82.5 82 L80.5 77.5 L75 76 L72 80 L70 89 L43.3 70.9 L21.5 63.6Z" fill="#FFF" filter="url(#bl3)"/>
</svg>
<rect x="519.8" y="489.2" width="69.7" height="69.6" fill="#666" opacity="0.5" filter="url(#sh)"/>
<rect x="519.35" y="488.25" width="68.60" height="68.50" fill="#FFFFFF" stroke="#BDBDBD" stroke-width="1.1"/>
<svg x="523.00" y="491.90" width="61.30" height="61.20" viewBox="0 0 100 100" preserveAspectRatio="none" overflow="hidden">
<rect width="100" height="100" fill="#000"/><path d="M9.6 60 L16 49 L25 41.8 L37.8 36.4 L49.6 26.4 L50.5 18.2 L56 15.5 L66.9 12.7 L86.9 7.3 L84.2 20 L87.8 36.4 L85 52.7 L76 67.3 L78.5 72 L87.8 76.4 L86.9 85.5 L81.5 90.9 L76 89 L74.2 83 L78 80.5 L80 84 L82.5 82 L80.5 77.5 L75 76 L72 80 L70 89 L43.3 70.9 L21.5 63.6Z" fill="#FFF"/>
</svg>
<defs><linearGradient id="ylw" x1="0" y1="0" x2="0" y2="1"><stop offset="0" stop-color="#FFD760"/><stop offset="1" stop-color="#FFDF80"/></linearGradient></defs>
<path d="M251.1 248.2 C285 241 320 242 352 247 C385 252 405 252 421 248.4 V304.3 C400 309.5 370 313 335 311 C300 309 275 304 251.1 307.6Z" fill="url(#ylw)" stroke="#F7C547" stroke-width="1"/>
<text transform="translate(277.75 269.26) scale(0.0943 0.1021)" font-family='"Liberation Mono", monospace' font-size="200" font-weight="normal" font-style="italic" fill="#111" stroke="#111" stroke-width="5.09" stroke-linejoin="round" xml:space="preserve">“A photo of</text>
<text transform="translate(268.75 296.56) scale(0.0807 0.1022)" font-family='"Liberation Mono", monospace' font-size="200" font-weight="normal" font-style="italic" fill="#111" stroke="#111" stroke-width="5.47" stroke-linejoin="round" xml:space="preserve">a sitting cat”</text>
<text transform="translate(435.40 268.98) scale(0.1010 0.1075)" font-family='"Liberation Serif", serif' font-size="200" font-weight="normal" font-style="normal" fill="#111" xml:space="preserve">Prompt</text>
<text transform="translate(501.00 268.79) scale(0.0955 0.1062)" font-family='"Liberation Serif", serif' font-size="200" font-weight="bold" font-style="normal" fill="#111" xml:space="preserve">c</text>
<text transform="translate(1190.80 45.68) scale(0.1149 0.1078)" font-family='"Liberation Serif", serif' font-size="200" font-weight="bold" font-style="normal" fill="#111" xml:space="preserve">Movement Branch</text>
<path d="M1437.6 35.6L1446.6 44.2M1446.6 35.6L1437.6 44.2" fill="none" stroke="#111" stroke-width="1.3" />
<text transform="translate(1445.60 44.70) scale(0.1339 0.1038)" font-family='"Liberation Serif", serif' font-size="200" font-weight="normal" font-style="italic" fill="#111" xml:space="preserve">T</text>
<text transform="translate(1076.40 603.48) scale(0.1149 0.1121)" font-family='"Liberation Serif", serif' font-size="200" font-weight="bold" font-style="normal" fill="#111" xml:space="preserve">Deocclusion Branch</text>
<path d="M1154.2 295.8L1163.8 305.6M1163.8 295.8L1154.2 305.6" fill="none" stroke="#111" stroke-width="1.3" />
<text transform="translate(1168.30 306.97) scale(0.0985 0.1077)" font-family='"Liberation Serif", serif' font-size="200" font-weight="normal" font-style="normal" fill="#111" xml:space="preserve">(</text>
<text transform="translate(1177.00 307.00) scale(0.0903 0.1069)" font-family='"Liberation Serif", serif' font-size="200" font-weight="normal" font-style="italic" fill="#111" xml:space="preserve">T</text>
<rect x="1195.2" y="300.1" width="12.6" height="1.5" fill="#111"/>
<text transform="translate(1215.50 307.00) scale(0.0847 0.1069)" font-family='"Liberation Serif", serif' font-size="200" font-weight="normal" font-style="italic" fill="#111" xml:space="preserve">T</text>
<text transform="translate(1224.60 310.90) scale(0.0868 0.0638)" font-family='"Liberation Serif", serif' font-size="200" font-weight="normal" font-style="italic" fill="#111" xml:space="preserve">m</text>
<text transform="translate(1240.00 306.97) scale(0.0925 0.1077)" font-family='"Liberation Serif", serif' font-size="200" font-weight="normal" font-style="normal" fill="#111" xml:space="preserve">)</text>
<text transform="translate(1071.05 40.98) scale(0.0821 0.1116)" font-family='"Liberation Serif", serif' font-size="200" font-weight="bold" font-style="normal" fill="#111" stroke="#111" stroke-width="3.10" stroke-linejoin="round" xml:space="preserve">Q</text>
<text transform="translate(637.60 656.75) scale(0.1451 0.1500)" font-family='"Liberation Serif", serif' font-size="200" font-weight="bold" font-style="normal" fill="#111" xml:space="preserve">(a)</text>
<text transform="translate(1489.10 656.75) scale(0.1480 0.1500)" font-family='"Liberation Serif", serif' font-size="200" font-weight="bold" font-style="normal" fill="#111" xml:space="preserve">(b)</text>
<text transform="translate(65.70 109.10) scale(0.0667 0.1122)" font-family='"Liberation Serif", serif' font-size="200" font-weight="bold" font-style="normal" fill="#111" stroke="#111" stroke-width="8.94" stroke-linejoin="round" xml:space="preserve">I</text>
<text transform="translate(73.56 113.55) scale(0.0906 0.0859)" font-family='"Liberation Serif", serif' font-size="200" font-weight="bold" font-style="italic" fill="#111" stroke="#111" stroke-width="3.96" stroke-linejoin="round" xml:space="preserve">s</text>
<rect x="65.0" y="501.80" width="8.2" height="1.40" fill="#111"/>
<text transform="translate(66.20 520.70) scale(0.0603 0.1107)" font-family='"Liberation Serif", serif' font-size="200" font-weight="bold" font-style="normal" fill="#111" stroke="#111" stroke-width="9.36" stroke-linejoin="round" xml:space="preserve">I</text>
<text transform="translate(73.56 525.46) scale(0.0906 0.0807)" font-family='"Liberation Serif", serif' font-size="200" font-weight="bold" font-style="italic" fill="#111" stroke="#111" stroke-width="4.09" stroke-linejoin="round" xml:space="preserve">s</text>
<text transform="translate(227.40 254.40) scale(0.0782 0.1107)" font-family='"Liberation Serif", serif' font-size="200" font-weight="bold" font-style="normal" fill="#111" stroke="#111" stroke-width="8.47" stroke-linejoin="round" xml:space="preserve">Z</text>
<text transform="translate(240.35 259.44) scale(0.0881 0.0901)" font-family='"Liberation Serif", serif' font-size="200" font-weight="bold" font-style="italic" fill="#111" stroke="#111" stroke-width="3.93" stroke-linejoin="round" xml:space="preserve">s</text>
<rect x="227.9" y="501.90" width="10.0" height="1.40" fill="#111"/>
<text transform="translate(227.40 520.70) scale(0.0782 0.1092)" font-family='"Liberation Serif", serif' font-size="200" font-weight="bold" font-style="normal" fill="#111" stroke="#111" stroke-width="8.54" stroke-linejoin="round" xml:space="preserve">Z</text>
<text transform="translate(240.35 525.46) scale(0.0881 0.0807)" font-family='"Liberation Serif", serif' font-size="200" font-weight="bold" font-style="italic" fill="#111" stroke="#111" stroke-width="4.15" stroke-linejoin="round" xml:space="preserve">s</text>
<text transform="translate(459.40 234.80) scale(0.0805 0.1076)" font-family='"Liberation Serif", serif' font-size="200" font-weight="bold" font-style="normal" fill="#111" stroke="#111" stroke-width="8.51" stroke-linejoin="round" xml:space="preserve">Z</text>
<text transform="translate(473.18 225.37) scale(0.0998 0.0770)" font-family='"Liberation Serif", serif' font-size="200" font-weight="bold" font-style="italic" fill="#111" stroke="#111" stroke-width="3.96" stroke-linejoin="round" xml:space="preserve">inv</text>
<text transform="translate(472.38 240.42) scale(0.0709 0.0859)" font-family='"Liberation Serif", serif' font-size="200" font-weight="bold" font-style="italic" fill="#111" stroke="#111" stroke-width="4.46" stroke-linejoin="round" xml:space="preserve">T</text>
<rect x="437.5" y="506.10" width="10.5" height="1.40" fill="#111"/>
<text transform="translate(437.50 524.40) scale(0.0782 0.1099)" font-family='"Liberation Serif", serif' font-size="200" font-weight="bold" font-style="normal" fill="#111" stroke="#111" stroke-width="8.51" stroke-linejoin="round" xml:space="preserve">Z</text>
<text transform="translate(451.18 514.97) scale(0.1014 0.0791)" font-family='"Liberation Serif", serif' font-size="200" font-weight="bold" font-style="italic" fill="#111" stroke="#111" stroke-width="3.88" stroke-linejoin="round" xml:space="preserve">inv</text>
<text transform="translate(450.18 530.43) scale(0.0733 0.0828)" font-family='"Liberation Serif", serif' font-size="200" font-weight="bold" font-style="italic" fill="#111" stroke="#111" stroke-width="4.48" stroke-linejoin="round" xml:space="preserve">T</text>
<text transform="translate(460.98 534.12) scale(0.0721 0.0612)" font-family='"Liberation Serif", serif' font-size="200" font-weight="bold" font-style="italic" fill="#111" stroke="#111" stroke-width="5.25" stroke-linejoin="round" xml:space="preserve">m</text>
<text transform="translate(677.40 240.70) scale(0.0797 0.1084)" font-family='"Liberation Serif", serif' font-size="200" font-weight="bold" font-style="normal" fill="#111" stroke="#111" stroke-width="8.51" stroke-linejoin="round" xml:space="preserve">Z</text>
<text transform="translate(690.77 245.25) scale(0.0926 0.0865)" font-family='"Liberation Serif", serif' font-size="200" font-weight="bold" font-style="italic" fill="#111" stroke="#111" stroke-width="3.91" stroke-linejoin="round" xml:space="preserve">t</text>
<rect x="680.4" y="486.00" width="10.5" height="1.40" fill="#111"/>
<text transform="translate(680.40 504.10) scale(0.0805 0.1084)" font-family='"Liberation Serif", serif' font-size="200" font-weight="bold" font-style="normal" fill="#111" stroke="#111" stroke-width="8.47" stroke-linejoin="round" xml:space="preserve">Z</text>
<text transform="translate(693.77 508.66) scale(0.0877 0.0804)" font-family='"Liberation Serif", serif' font-size="200" font-weight="bold" font-style="italic" fill="#111" stroke="#111" stroke-width="4.16" stroke-linejoin="round" xml:space="preserve">t</text>
<text transform="translate(1200.20 241.10) scale(0.0805 0.1137)" font-family='"Liberation Serif", serif' font-size="200" font-weight="bold" font-style="normal" fill="#111" stroke="#111" stroke-width="8.24" stroke-linejoin="round" xml:space="preserve">Z</text>
<polygon points="1215.60,223.10 1218.10,223.40 1215.00,230.10 1213.70,229.80" fill="#111" stroke="none" stroke-width="0" stroke-linejoin="miter" />
<text transform="translate(1213.17 245.95) scale(0.0795 0.0883)" font-family='"Liberation Serif", serif' font-size="200" font-weight="bold" font-style="italic" fill="#111" stroke="#111" stroke-width="4.17" stroke-linejoin="round" xml:space="preserve">t</text>
<rect x="1220.60" y="240.90" width="9.60" height="2.10" fill="#111"/>
<text transform="translate(1233.10 246.20) scale(0.0730 0.0826)" font-family='"Liberation Serif", serif' font-size="200" font-weight="bold" font-style="normal" fill="#111" stroke="#111" stroke-width="10.28" stroke-linejoin="round" xml:space="preserve">1</text>
<text transform="translate(1431.50 241.10) scale(0.0805 0.1115)" font-family='"Liberation Serif", serif' font-size="200" font-weight="bold" font-style="normal" fill="#111" stroke="#111" stroke-width="8.34" stroke-linejoin="round" xml:space="preserve">Z</text>
<text transform="translate(1444.58 245.65) scale(0.0828 0.0883)" font-family='"Liberation Serif", serif' font-size="200" font-weight="bold" font-style="italic" fill="#111" stroke="#111" stroke-width="4.09" stroke-linejoin="round" xml:space="preserve">t</text>
<rect x="1452.20" y="240.60" width="9.70" height="2.20" fill="#111"/>
<text transform="translate(1464.40 245.60) scale(0.0700 0.0826)" font-family='"Liberation Serif", serif' font-size="200" font-weight="bold" font-style="normal" fill="#111" stroke="#111" stroke-width="10.49" stroke-linejoin="round" xml:space="preserve">1</text>
<rect x="1203.1" y="485.80" width="10.0" height="1.40" fill="#111"/>
<text transform="translate(1202.60 504.40) scale(0.0782 0.1107)" font-family='"Liberation Serif", serif' font-size="200" font-weight="bold" font-style="normal" fill="#111" stroke="#111" stroke-width="8.47" stroke-linejoin="round" xml:space="preserve">Z</text>
<text transform="translate(1215.67 508.95) scale(0.0877 0.0857)" font-family='"Liberation Serif", serif' font-size="200" font-weight="bold" font-style="italic" fill="#111" stroke="#111" stroke-width="4.04" stroke-linejoin="round" xml:space="preserve">t</text>
<rect x="1223.00" y="503.50" width="10.00" height="2.00" fill="#111"/>
<text transform="translate(1236.10 509.20) scale(0.0640 0.0826)" font-family='"Liberation Serif", serif' font-size="200" font-weight="bold" font-style="normal" fill="#111" stroke="#111" stroke-width="10.92" stroke-linejoin="round" xml:space="preserve">1</text>
<text transform="translate(1617.30 253.30) scale(0.0667 0.1145)" font-family='"Liberation Serif", serif' font-size="200" font-weight="bold" font-style="normal" fill="#111" stroke="#111" stroke-width="8.83" stroke-linejoin="round" xml:space="preserve">I</text>
<text transform="translate(1624.97 258.35) scale(0.0871 0.0891)" font-family='"Liberation Serif", serif' font-size="200" font-weight="bold" font-style="italic" fill="#111" stroke="#111" stroke-width="3.97" stroke-linejoin="round" xml:space="preserve">e</text>
<rect x="547.4" y="561.00" width="13.4" height="1.40" fill="#111"/>
<text transform="translate(545.40 580.40) scale(0.0905 0.1145)" font-family='"Liberation Serif", serif' font-size="200" font-weight="bold" font-style="normal" fill="#111" stroke="#111" stroke-width="7.81" stroke-linejoin="round" xml:space="preserve">M</text>
<text transform="translate(564.17 584.94) scale(0.1093 0.0920)" font-family='"Liberation Serif", serif' font-size="200" font-weight="bold" font-style="italic" fill="#111" stroke="#111" stroke-width="3.48" stroke-linejoin="round" xml:space="preserve">v</text>
<rect x="634.0" y="335.70" width="13.0" height="1.40" fill="#111"/>
<text transform="translate(634.40 354.40) scale(0.0912 0.1038)" font-family='"Liberation Serif", serif' font-size="200" font-weight="bold" font-style="normal" fill="#111" stroke="#111" stroke-width="8.21" stroke-linejoin="round" xml:space="preserve">R</text>
<text transform="translate(649.57 344.57) scale(0.0658 0.0787)" font-family='"Liberation Serif", serif' font-size="200" font-weight="bold" font-style="italic" fill="#111" stroke="#111" stroke-width="4.84" stroke-linejoin="round" xml:space="preserve">C</text>
<text transform="translate(650.47 360.16) scale(0.0828 0.0804)" font-family='"Liberation Serif", serif' font-size="200" font-weight="bold" font-style="italic" fill="#111" stroke="#111" stroke-width="4.29" stroke-linejoin="round" xml:space="preserve">t</text>
<text transform="translate(658.20 360.10) scale(0.0754 0.0752)" font-family='"Liberation Serif", serif' font-size="200" font-weight="bold" font-style="normal" fill="#111" stroke="#111" stroke-width="10.62" stroke-linejoin="round" xml:space="preserve">+</text>
<text transform="translate(670.30 360.10) scale(0.0700 0.0780)" font-family='"Liberation Serif", serif' font-size="200" font-weight="bold" font-style="normal" fill="#111" stroke="#111" stroke-width="10.81" stroke-linejoin="round" xml:space="preserve">1</text>
<rect x="1249.4" y="532.30" width="13.2" height="1.40" fill="#111"/>
<text transform="translate(1249.80 550.60) scale(0.0918 0.1061)" font-family='"Liberation Serif", serif' font-size="200" font-weight="bold" font-style="normal" fill="#111" stroke="#111" stroke-width="8.08" stroke-linejoin="round" xml:space="preserve">R</text>
<text transform="translate(1265.08 541.26) scale(0.0717 0.0817)" font-family='"Liberation Serif", serif' font-size="200" font-weight="bold" font-style="italic" fill="#111" stroke="#111" stroke-width="4.56" stroke-linejoin="round" xml:space="preserve">C</text>
<text transform="translate(1266.17 555.14) scale(0.0811 0.0917)" font-family='"Liberation Serif", serif' font-size="200" font-weight="bold" font-style="italic" fill="#111" stroke="#111" stroke-width="4.05" stroke-linejoin="round" xml:space="preserve">t</text>
<text transform="translate(592.00 113.80) scale(0.0970 0.1174)" font-family='"Liberation Serif", serif' font-size="200" font-weight="bold" font-style="normal" fill="#111" stroke="#111" stroke-width="7.46" stroke-linejoin="round" xml:space="preserve">1</text>
<rect x="610.00" y="106.40" width="14.00" height="2.00" fill="#111"/>
<text transform="translate(632.30 113.70) scale(0.0921 0.1137)" font-family='"Liberation Serif", serif' font-size="200" font-weight="bold" font-style="normal" fill="#111" stroke="#111" stroke-width="7.77" stroke-linejoin="round" xml:space="preserve">M</text>
<text transform="translate(651.77 118.34) scale(0.1005 0.0941)" font-family='"Liberation Serif", serif' font-size="200" font-weight="bold" font-style="italic" fill="#111" stroke="#111" stroke-width="3.60" stroke-linejoin="round" xml:space="preserve">v</text>
<rect x="1498.2" y="18.6" width="207.3" height="83.4" rx="12" fill="none" stroke="#505050" stroke-width="2.7" stroke-dasharray="5.6 3.6"/>
<polygon points="1522.95,33.26 1542.15,38.72 1542.15,53.58 1522.95,58.74" fill="#DAE3F3" stroke="#2F5597" stroke-width="2.7" stroke-linejoin="miter" />
<polygon points="1550.05,39.26 1568.95,32.72 1568.95,59.28 1550.05,53.04" fill="#DAE3F3" stroke="#2F5597" stroke-width="2.7" stroke-linejoin="miter" />
<rect x="1526.2" y="42.4" width="11.7" height="7.1" rx="1.5" fill="#FFE699" stroke="#BF9000" stroke-width="1"/>
<rect x="1554.0" y="42.4" width="10.9" height="7.1" rx="1.5" fill="#E2F0D9" stroke="#70AD47" stroke-width="1"/>
<polygon points="1626.30,28.80 1659.50,28.80 1642.80,34.10" fill="#F8CBAD" stroke="#D86E2C" stroke-width="1.8" stroke-linejoin="miter" />
<polygon points="1626.30,63.00 1659.50,63.00 1642.80,56.40" fill="#F8CBAD" stroke="#D86E2C" stroke-width="1.8" stroke-linejoin="miter" />
<polygon points="1620.15,33.26 1639.35,38.72 1639.35,53.58 1620.15,58.74" fill="#DAE3F3" stroke="#2F5597" stroke-width="2.7" stroke-linejoin="miter" />
<polygon points="1647.25,39.26 1666.15,32.72 1666.15,59.28 1647.25,53.04" fill="#DAE3F3" stroke="#2F5597" stroke-width="2.7" stroke-linejoin="miter" />
<rect x="1623.4" y="42.4" width="11.7" height="7.1" rx="1.5" fill="#FFE699" stroke="#BF9000" stroke-width="1"/>
<rect x="1651.2" y="42.4" width="10.9" height="7.1" rx="1.5" fill="#E2F0D9" stroke="#70AD47" stroke-width="1"/>
<text transform="translate(1521.60 88.93) scale(0.0934 0.0872)" font-family='"Liberation Serif", serif' font-size="200" font-weight="normal" font-style="normal" fill="#111" xml:space="preserve">U-Net</text>
<text transform="translate(1581.10 88.93) scale(0.0938 0.0866)" font-family='"Liberation Serif", serif' font-size="200" font-weight="normal" font-style="normal" fill="#111" xml:space="preserve">U-Net w/ LoRA</text>
<rect x="1308.6" y="286.1" width="395.6" height="82.4" rx="11" fill="none" stroke="#505050" stroke-width="2.7" stroke-dasharray="5.6 3.6"/>
<rect x="1341.0" y="290.5" width="47.9" height="48.5" fill="#666" opacity="0.5" filter="url(#sh)"/>
<rect x="1340.55" y="289.55" width="46.80" height="47.40" fill="#FFFFFF" stroke="#BDBDBD" stroke-width="1.1"/>
<svg x="1340.00" y="289.00" width="47.90" height="48.50" viewBox="0 0 100 100" preserveAspectRatio="none" overflow="hidden">
<rect width="100" height="100" fill="#FFF"/><path d="M19.7 40.5 L24 33.6 L30.4 29.6 L34.4 27.2 L34.7 22.4 L38.4 20.8 L42.4 20 L47.2 17.6 L47.5 24.8 L48 32.8 L46.4 40 L43.7 45.6 L47.2 48 L47.5 52 L44.8 55.5 L42 54.5 L41.5 52.5 L44.3 51.5 L44.5 49.5 L41.5 49.5 L36.8 50.4 L28 45.6 L21.6 42.4Z" fill="#000"/>
</svg>
<rect x="1438.2" y="290.5" width="48.6" height="48.5" fill="#666" opacity="0.5" filter="url(#sh)"/>
<rect x="1437.75" y="289.55" width="47.50" height="47.40" fill="#FFFFFF" stroke="#BDBDBD" stroke-width="1.1"/>
<svg x="1440.60" y="292.40" width="41.80" height="41.70" viewBox="0 0 100 100" preserveAspectRatio="none" overflow="hidden">
<rect width="100" height="100" fill="#000"/><path d="M9.6 60 L16 49 L25 41.8 L37.8 36.4 L49.6 26.4 L50.5 18.2 L56 15.5 L66.9 12.7 L86.9 7.3 L84.2 20 L87.8 36.4 L85 52.7 L76 67.3 L78.5 72 L87.8 76.4 L86.9 85.5 L81.5 90.9 L76 89 L74.2 83 L78 80.5 L80 84 L82.5 82 L80.5 77.5 L75 76 L72 80 L70 89 L43.3 70.9 L21.5 63.6Z" fill="#FFF"/>
</svg>
<rect x="1537.8" y="290.5" width="47.3" height="48.5" fill="#666" opacity="0.5" filter="url(#sh)"/>
<rect x="1537.35" y="289.55" width="46.20" height="47.40" fill="#FFFFFF" stroke="#BDBDBD" stroke-width="1.1"/>
<svg x="1540.20" y="292.40" width="40.50" height="41.70" viewBox="0 0 100 100" preserveAspectRatio="none" overflow="hidden">
<defs><filter id="bl7" x="-20%" y="-20%" width="140%" height="140%"><feGaussianBlur stdDeviation="2.2"/></filter><linearGradient id="gg7" x1="0" y1="0" x2="0.3" y2="1"><stop offset="0" stop-color="#E0E0E0"/><stop offset="0.6" stop-color="#B8B8B8"/><stop offset="1" stop-color="#808080"/></linearGradient></defs><rect width="100" height="100" fill="#050505"/><path d="M2 62 L44 74 L80 94 L100 100 L100 100 H2Z" fill="url(#gg7)" filter="url(#bl7)"/><path d="M9.6 60 L16 49 L25 41.8 L37.8 36.4 L49.6 26.4 L50.5 18.2 L56 15.5 L66.9 12.7 L86.9 7.3 L84.2 20 L87.8 36.4 L85 52.7 L76 67.3 L78.5 72 L87.8 76.4 L86.9 85.5 L81.5 90.9 L76 89 L74.2 83 L78 80.5 L80 84 L82.5 82 L80.5 77.5 L75 76 L72 80 L70 89 L43.3 70.9 L21.5 63.6Z" fill="#FFF" filter="url(#bl7)"/>
</svg>
<rect x="1633.7" y="290.5" width="47.3" height="48.5" fill="#666" opacity="0.5" filter="url(#sh)"/>
<rect x="1633.25" y="289.55" width="46.20" height="47.40" fill="#FFFFFF" stroke="#BDBDBD" stroke-width="1.1"/>
<svg x="1636.10" y="292.40" width="40.50" height="41.70" viewBox="0 0 100 100" preserveAspectRatio="none" overflow="hidden">
<rect width="100" height="100" fill="#000"/><rect x="41" y="40" width="48.5" height="49" fill="#FFFFFF" stroke="#F3C420" stroke-width="4" stroke-dasharray="7 4"/>
</svg>
<text transform="translate(1329.30 359.80) scale(0.0970 0.1136)" font-family='"Liberation Serif", serif' font-size="200" font-weight="bold" font-style="normal" fill="#111" stroke="#111" stroke-width="7.60" stroke-linejoin="round" xml:space="preserve">1</text>
<rect x="1347.80" y="352.50" width="13.60" height="2.00" fill="#111"/>
<text transform="translate(1370.20 359.80) scale(0.0873 0.1099)" font-family='"Liberation Serif", serif' font-size="200" font-weight="bold" font-style="normal" fill="#111" stroke="#111" stroke-width="8.11" stroke-linejoin="round" xml:space="preserve">M</text>
<text transform="translate(1388.27 364.53) scale(0.1115 0.0973)" font-family='"Liberation Serif", serif' font-size="200" font-weight="bold" font-style="italic" fill="#111" stroke="#111" stroke-width="3.35" stroke-linejoin="round" xml:space="preserve">v</text>
<rect x="1449.0" y="341.00" width="13.0" height="1.40" fill="#111"/>
<text transform="translate(1447.20 359.80) scale(0.0873 0.1099)" font-family='"Liberation Serif", serif' font-size="200" font-weight="bold" font-style="normal" fill="#111" stroke="#111" stroke-width="8.11" stroke-linejoin="round" xml:space="preserve">M</text>
<text transform="translate(1465.38 364.53) scale(0.1115 0.0973)" font-family='"Liberation Serif", serif' font-size="200" font-weight="bold" font-style="italic" fill="#111" stroke="#111" stroke-width="3.35" stroke-linejoin="round" xml:space="preserve">v</text>
<rect x="1549.1" y="343.30" width="12.6" height="1.40" fill="#111"/>
<text transform="translate(1549.50 361.80) scale(0.0898 0.1130)" font-family='"Liberation Serif", serif' font-size="200" font-weight="bold" font-style="normal" fill="#111" stroke="#111" stroke-width="7.89" stroke-linejoin="round" xml:space="preserve">R</text>
<text transform="translate(1565.17 352.87) scale(0.0621 0.0772)" font-family='"Liberation Serif", serif' font-size="200" font-weight="bold" font-style="italic" fill="#111" stroke="#111" stroke-width="5.02" stroke-linejoin="round" xml:space="preserve">C</text>
<text transform="translate(1565.58 366.37) scale(0.0861 0.0778)" font-family='"Liberation Serif", serif' font-size="200" font-weight="bold" font-style="italic" fill="#111" stroke="#111" stroke-width="4.27" stroke-linejoin="round" xml:space="preserve">t</text>
<text transform="translate(1648.55 358.05) scale(0.0846 0.1061)" font-family='"Liberation Serif", serif' font-size="200" font-weight="bold" font-style="normal" fill="#111" stroke="#111" stroke-width="3.15" stroke-linejoin="round" xml:space="preserve">Q</text>
<rect x="1308.8" y="378.8" width="397" height="232" rx="20" fill="#F2F2F2" stroke="#7F7F7F" stroke-width="1.1"/>
<rect x="1399.70" y="389.50" width="142.50" height="32.40" rx="9" fill="#D9D9D9" stroke="#A6A6A6" stroke-width="2.6"/>
<text transform="translate(1419.20 411.69) scale(0.1044 0.1057)" font-family='"Liberation Serif", serif' font-size="200" font-weight="normal" font-style="normal" fill="#111" xml:space="preserve">Masked</text>
<text transform="translate(1492.27 411.90) scale(0.0912 0.1137)" font-family='"Liberation Serif", serif' font-size="200" font-weight="normal" font-style="italic" fill="#111" xml:space="preserve">L</text>
<text transform="translate(1503.30 415.82) scale(0.0948 0.0896)" font-family='"Liberation Serif", serif' font-size="200" font-weight="normal" font-style="italic" fill="#111" xml:space="preserve">rec</text>
<rect x="1408.70" y="542.60" width="127.80" height="32.70" rx="9" fill="#D9D9D9" stroke="#A6A6A6" stroke-width="2.6"/>
<text transform="translate(1430.00 563.88) scale(0.1050 0.1078)" font-family='"Liberation Serif", serif' font-size="200" font-weight="normal" font-style="normal" fill="#111" xml:space="preserve">Add Noise</text>
<polygon points="1316,466 1356,433.6 1356,541.4 1316,573.8" fill="#777" opacity="0.5" filter="url(#sh)"/>
<polygon points="1314.50,466.00 1354.80,433.60 1354.80,541.40 1314.50,573.80" fill="#FFFFFF" stroke="#C8C8C8" stroke-width="1" stroke-linejoin="miter" />
<defs><clipPath id="clipIs"><rect x="0" y="0" width="100" height="100"/></clipPath></defs>
<g transform="matrix(0.335 -0.27 0 1.0 1318 468.5)"><g clip-path="url(#clipIs)">
<defs><filter id="pb2b" x="-5%" y="-5%" width="110%" height="110%"><feGaussianBlur stdDeviation="0.9"/></filter></defs>
<g filter="url(#pb2b)">
<rect width="100" height="100" fill="#EC6027"/>
<rect width="100" height="19" fill="#D9C7B2"/>
<path d="M86.6 10 H100 V40 H86.6Z" fill="#D6C4AE"/>
<path d="M0 0H26.5V10H0Z" fill="#2A2828"/>
<path d="M29 1 Q60 -1 94.5 2 L93 10.7 Q60 12 30 10.7Z" fill="#C63A2A"/>
<path d="M0 13 Q30 10 52 22 L50 45 L28 56 L12 62 L0 62Z" fill="#EF6A2C"/>
<path d="M0 60 Q30 60 56 76 Q70 86 78 100 H0Z" fill="#F27634"/>
<g fill="#F59E52" opacity="0.3">
<circle cx="12" cy="30" r="6"/><circle cx="30" cy="24" r="5"/><circle cx="8" cy="48" r="5"/>
<circle cx="14" cy="76" r="7"/><circle cx="36" cy="86" r="6"/><circle cx="55" cy="92" r="5"/><circle cx="92" cy="56" r="5"/><circle cx="90" cy="86" r="5"/>
</g>
<ellipse cx="44" cy="62" rx="32" ry="13" transform="rotate(22 44 62)" fill="#7E7468"/>
<ellipse cx="70" cy="56" rx="14" ry="20" fill="#8A7F72"/>
<path d="M62 66 L80 66 L82 92 L64 90Z" fill="#8E8376"/>
<path d="M55 28 L57 9 L67 20Z M75 20 L86 5 L87 27Z" fill="#857A6D"/>
<ellipse cx="71" cy="32" rx="16" ry="15" fill="#8E8376"/>
<ellipse cx="72" cy="36" rx="10" ry="9" fill="#A69C90"/>
<circle cx="66" cy="32" r="1.8" fill="#6E8A3A"/><circle cx="79" cy="31" r="1.8" fill="#6E8A3A"/>
<path d="M22 54 Q28 50 33 58 M32 50 Q38 48 42 58 M44 56 Q50 58 52 68 M58 50 Q62 58 62 66 M66 70 Q70 76 68 84" stroke="#3C362F" stroke-width="2.6" fill="none"/>
<ellipse cx="82" cy="77" rx="7.5" ry="6.5" fill="#151515"/>
</g>
</g></g>
<rect x="1337.0" y="568.80" width="6.5" height="1.40" fill="#111"/>
<text transform="translate(1337.40 584.60) scale(0.0667 0.0893)" font-family='"Liberation Serif", serif' font-size="200" font-weight="bold" font-style="normal" fill="#111" stroke="#111" stroke-width="10.26" stroke-linejoin="round" xml:space="preserve">I</text>
<text transform="translate(1345.36 588.18) scale(0.0919 0.0745)" font-family='"Liberation Serif", serif' font-size="200" font-weight="bold" font-style="italic" fill="#111" stroke="#111" stroke-width="4.21" stroke-linejoin="round" xml:space="preserve">s</text>
<polygon points="1371.75,446.36 1412.35,467.62 1412.35,522.78 1371.75,543.74" fill="#B4C7E7" stroke="#2F5597" stroke-width="2.7" stroke-linejoin="miter" />
<text transform="translate(1384.05 505.43) scale(0.1367 0.1660)" font-family='"Liberation Serif", serif' font-size="200" font-weight="bold" font-style="italic" fill="#111" stroke="#111" stroke-width="2.31" stroke-linejoin="round" xml:space="preserve">E</text>
<polygon points="1426.40,474.04 1433.90,474.04 1451.90,456.40 1444.40,456.40" fill="#D6D6D6" stroke="#EDEDED" stroke-width="1.8" stroke-linejoin="miter" stroke-linejoin="round"/>
<polygon points="1433.90,474.04 1451.90,456.40 1451.90,512.46 1433.90,530.10" fill="#A3A3A3" stroke="#EDEDED" stroke-width="1.8" stroke-linejoin="miter" stroke-linejoin="round"/>
<polygon points="1426.40,474.04 1433.90,474.04 1433.90,530.10 1426.40,530.10" fill="#C9C9C9" stroke="#EDEDED" stroke-width="1.8" stroke-linejoin="miter" stroke-linejoin="round"/>
<path d="M1439.4 470.0V431.4" fill="none" stroke="#575757" stroke-width="2.7" />
<path d="M1445 492.4H1487" fill="none" stroke="#575757" stroke-width="2.7" />
<path d="M1470.8 541.5V501.3" fill="none" stroke="#575757" stroke-width="2.7" />
<polygon points="1497.00,449.00 1611.70,449.00 1554.00,462.20" fill="#F8CBAD" stroke="#D86E2C" stroke-width="2" stroke-linejoin="miter" />
<polygon points="1501.80,534.50 1606.00,534.50 1554.00,520.50" fill="#F8CBAD" stroke="#D86E2C" stroke-width="2" stroke-linejoin="miter" />
<path d="M1547 492.4H1561" fill="none" stroke="#575757" stroke-width="2.7" />
<polygon points="1485.65,450.66 1548.85,466.62 1548.85,518.38 1485.65,532.84" fill="#B4C7E7" stroke="#2F5597" stroke-width="2.7" stroke-linejoin="miter" />
<polygon points="1559.05,467.16 1624.05,450.12 1624.05,533.38 1559.05,517.84" fill="#B4C7E7" stroke="#2F5597" stroke-width="2.7" stroke-linejoin="miter" />
<rect x="1495.80" y="478.00" width="45.20" height="26.40" rx="6" fill="#EDDEAE" stroke="#BF9000" stroke-width="2.6"/>
<rect x="1567.30" y="478.00" width="46.30" height="26.40" rx="6" fill="#C3DBBE" stroke="#538135" stroke-width="2.6"/>
<path d="M1555.5 450.5 Q1551 455 1552.5 458.5 Q1555 461 1558 458.5 Q1559.5 455.5 1557 453 Q1557 455 1556 455.5 Q1556.5 453 1555.5 450.5Z" fill="#E8202A"/>
<path d="M1611.30 465.70L1611.30 458.20 M1611.30 461.57L1613.14 459.74 M1611.30 461.57L1609.46 459.74 M1611.30 465.70L1604.80 461.95 M1607.73 463.64L1607.05 461.13 M1607.73 463.64L1605.22 464.31 M1611.30 465.70L1604.80 469.45 M1607.73 467.76L1605.22 467.09 M1607.73 467.76L1607.05 470.27 M1611.30 465.70L1611.30 473.20 M1611.30 469.82L1609.46 471.66 M1611.30 469.82L1613.14 471.66 M1611.30 465.70L1617.80 469.45 M1614.87 467.76L1615.55 470.27 M1614.87 467.76L1617.38 467.09 M1611.30 465.70L1617.80 461.95 M1614.87 463.64L1617.38 464.31 M1614.87 463.64L1615.55 461.13" stroke="#5B8BD6" stroke-width="1.3" fill="none" stroke-linecap="round"/>
<path d="M1625.0 492.6H1629.1" fill="none" stroke="#575757" stroke-width="2.7" />
<polygon points="1643.80,473.84 1650.60,473.84 1668.40,456.40 1661.60,456.40" fill="#D6D6D6" stroke="#EDEDED" stroke-width="1.8" stroke-linejoin="miter" stroke-linejoin="round"/>
<polygon points="1650.60,473.84 1668.40,456.40 1668.40,512.86 1650.60,530.30" fill="#A3A3A3" stroke="#EDEDED" stroke-width="1.8" stroke-linejoin="miter" stroke-linejoin="round"/>
<polygon points="1643.80,473.84 1650.60,473.84 1650.60,530.30 1643.80,530.30" fill="#C9C9C9" stroke="#EDEDED" stroke-width="1.8" stroke-linejoin="miter" stroke-linejoin="round"/>
<polygon points="1671.5,473.6 1695,453.2 1695,510.8 1671.5,530" fill="#777" opacity="0.5" filter="url(#sh)"/>
<polygon points="1670.50,473.60 1693.70,453.20 1693.70,510.80 1670.50,530.00" fill="#FFFFFF" stroke="#C8C8C8" stroke-width="1" stroke-linejoin="miter" />
<g transform="matrix(0.18 -0.158 0 0.52 1673.2 473.8)"><rect width="100" height="100" fill="#000"/><path d="M9.6 60 L16 49 L25 41.8 L37.8 36.4 L49.6 26.4 L50.5 18.2 L56 15.5 L66.9 12.7 L86.9 7.3 L84.2 20 L87.8 36.4 L85 52.7 L76 67.3 L78.5 72 L87.8 76.4 L86.9 85.5 L81.5 90.9 L76 89 L74.2 83 L78 80.5 L80 84 L82.5 82 L80.5 77.5 L75 76 L72 80 L70 89 L43.3 70.9 L21.5 63.6Z" fill="#FFF"/></g>
<path d="M1657.6 460V415 Q1657.6 405.4 1648 405.4H1554" fill="none" stroke="#575757" stroke-width="2.7" />
<path d="M1682.4 459V415 Q1682.4 405.4 1673 405.4H1650" fill="none" stroke="#575757" stroke-width="2.7" />
<text transform="translate(1496.10 604.07) scale(0.1147 0.1076)" font-family='"Liberation Serif", serif' font-size="200" font-weight="bold" font-style="normal" fill="#111" xml:space="preserve">Tuning LoRA for</text>
<polygon points="1675.50,589.50 1700.00,589.50 1687.70,604.50" fill="#F8CBAD" stroke="#D86E2C" stroke-width="2" stroke-linejoin="miter" />
<polygon points="58.4,374.8 52.8,363.0 64.0,363.0" fill="#575757"/>
<polygon points="1439.4,421.6 1433.8,433.4 1445.0,433.4" fill="#575757"/>
<polygon points="1470.8,491.5 1465.2,503.3 1476.4,503.3" fill="#575757"/>
<polygon points="1638.9,492.6 1627.1,487.0 1627.1,498.2" fill="#575757"/>
<polygon points="1545.0,405.4 1556.8,399.8 1556.8,411.0" fill="#575757"/></svg>
</body></html>
